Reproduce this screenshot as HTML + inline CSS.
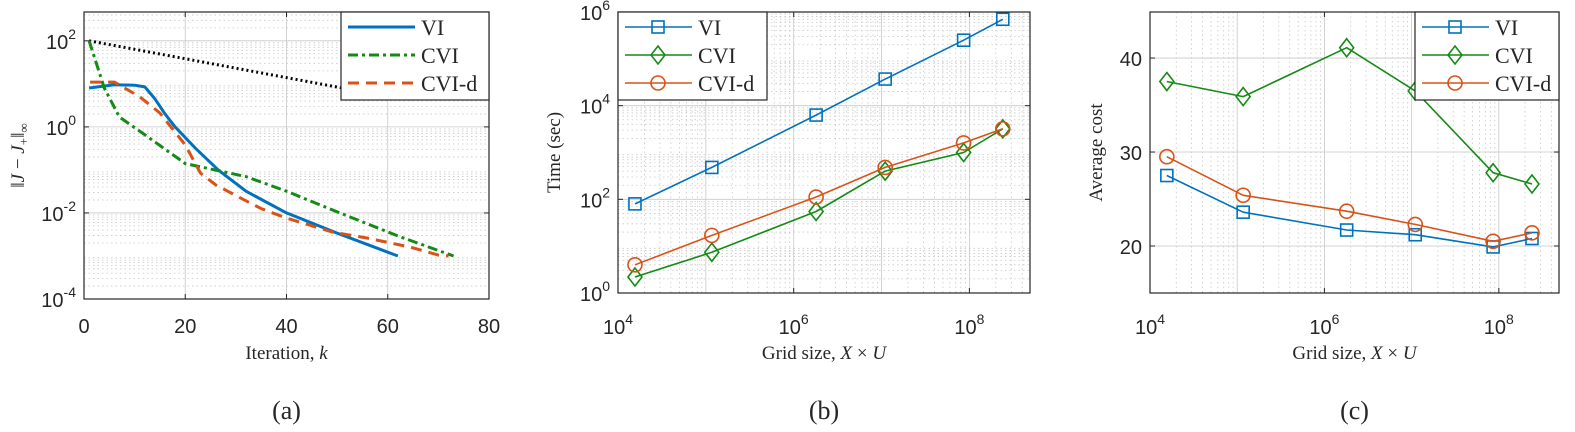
<!DOCTYPE html>
<html><head><meta charset="utf-8"><style>
body{margin:0;background:#fff;}
svg text{font-family:"Liberation Sans",sans-serif;fill:#262626;}
.serif{font-family:"Liberation Serif",serif !important;}
</style></head><body>
<svg id="fig" width="1575" height="427" viewBox="0 0 1575 427" xmlns="http://www.w3.org/2000/svg"></svg>
<script>
// Panel (a) data: iteration vs error
const aSeriesNames=["VI","CVI","CVI-d"];
const aViK=[1,6,10,12,14,16,18,22,26.5,32,40,50,62];
const aViV=[8,9.5,9.3,8.5,4.5,2,1.0,0.32,0.1,0.032,0.01,0.0034,0.001];
const aCviK=[1,4,7,11.7,20,32,40,50.5,62.4,73];
const aCviV=[100,8,1.7,0.7,0.14,0.07,0.032,0.01,0.0028,0.001];
const aCvidK=[1.2,6,11,15,20,23,26,31,35,40,49,56,64.5,70,72];
const aCvidV=[11,11,5,2.1,0.38,0.085,0.045,0.022,0.0126,0.0076,0.0036,0.0026,0.0016,0.00105,0.001];
const aRefK=[1,51];
const aRefV=[100,8];
const aXTicks=[0,20,40,60,80];
const aYTicks=[-4,-2,0,2];
// Panel (b) data: grid size vs time
const gridSizes=[1.56e4,1.17e5,1.8e6,1.1e7,8.6e7,2.4e8];
const bVi=[80,480,6300,37000,2.5e5,7e5];
const bCvi=[2.2,7.4,55,400,1000,3200];
const bCvid=[4,17,112,480,1600,3200];
const logXTicks=[4,6,8];
const bYTicks=[0,2,4,6];
// Panel (c) data: grid size vs average cost
const cVi=[27.5,23.6,21.7,21.2,19.9,20.8];
const cCvi=[37.5,35.9,41.1,36.5,27.8,26.6];
const cCvid=[29.5,25.4,23.7,22.3,20.5,21.4];
const cYTicks=[20,30,40];

const NS="http://www.w3.org/2000/svg";
const svg=document.getElementById('fig');
const BLUE="#0072BD",GREEN="#158A15",ORANGE="#D95319";
function mk(tag,attrs,parent){const e=document.createElementNS(NS,tag);for(const k in attrs)e.setAttribute(k,attrs[k]);(parent||svg).appendChild(e);return e;}
function txt(x,y,s,size,anchor,cls,parent){const t=mk('text',{x:x,y:y,'font-size':size,'text-anchor':anchor||'middle'},parent);if(cls)t.setAttribute('class',cls);t.innerHTML=s;return t;}

function panel(o){
  const g=mk('g',{});
  
  
  const X=v=>o.x0+(o.xlog?Math.log10(v)-o.xmin:v-o.xmin)/(o.xmax-o.xmin)*(o.x1-o.x0);
  const Y=v=>o.y1-(o.ylog?Math.log10(v)-o.ymin:v-o.ymin)/(o.ymax-o.ymin)*(o.y1-o.y0);
  mk('rect',{x:o.x0,y:o.y0,width:o.x1-o.x0,height:o.y1-o.y0,fill:'#fff'},g);
  const gr=mk('g',{stroke:'#c8c8c8','stroke-width':0.8},g);
  
  if(o.xlog){for(let d=Math.floor(o.xmin);d<o.xmax;d++)for(let m=2;m<10;m++){const lv=d+Math.log10(m);if(lv<=o.xmin||lv>=o.xmax)continue;const xx=X(Math.pow(10,lv));mk('line',{x1:xx,x2:xx,y1:o.y0,y2:o.y1,'stroke-dasharray':'1.5,3'},gr);}
    for(let d=Math.ceil(o.xmin);d<o.xmax;d++){const xx=X(Math.pow(10,d));mk('line',{x1:xx,x2:xx,y1:o.y0,y2:o.y1},gr);}}
  if(o.ylog){for(let d=Math.floor(o.ymin);d<o.ymax;d++)for(let m=2;m<10;m++){const lv=d+Math.log10(m);if(lv<=o.ymin||lv>=o.ymax)continue;const yy=Y(Math.pow(10,lv));mk('line',{x1:o.x0,x2:o.x1,y1:yy,y2:yy,'stroke-dasharray':'1.5,3'},gr);}}
  o.xticks.forEach(t=>{const xx=o.xlog?X(Math.pow(10,t)):X(t);if(!o.xlog)mk('line',{x1:xx,x2:xx,y1:o.y0,y2:o.y1},gr);
    mk('line',{x1:xx,x2:xx,y1:o.y1,y2:o.y1-5,stroke:'#262626'},g);mk('line',{x1:xx,x2:xx,y1:o.y0,y2:o.y0+5,stroke:'#262626'},g);
    if(o.xlog)txt(xx,334,'10<tspan dy="-10" font-size="14">'+t+'</tspan>',20,'middle',null,g);else txt(xx,333,t,20,'middle',null,g);});
  o.yticks.forEach(t=>{const yy=o.ylog?Y(Math.pow(10,t)):Y(t);mk('line',{x1:o.x0,x2:o.x1,y1:yy,y2:yy},gr);
    mk('line',{x1:o.x0,x2:o.x0+5,y1:yy,y2:yy,stroke:'#262626'},g);mk('line',{x1:o.x1,x2:o.x1-5,y1:yy,y2:yy,stroke:'#262626'},g);
    if(o.ylog)txt(o.x0-8,yy+8,'10<tspan dy="-10" font-size="14">'+t+'</tspan>',20,'end',null,g);else txt(o.x0-8,yy+8,t,20,'end',null,g);});
  o.series.forEach(s=>{
    const sg=mk('g',{},g);
    
    
    const pts=s.xs.map((v,i)=>X(v).toFixed(1)+','+Y(s.ys[i]).toFixed(1)).join(' ');
    const pl=mk('polyline',{points:pts,fill:'none',stroke:s.color,'stroke-width':s.w,'stroke-dasharray':s.dash||'none','stroke-linejoin':'round'},sg);
    
    
    if(s.marker)s.xs.forEach((v,i)=>{const m=marker(s.marker,X(v),Y(s.ys[i]),s.color,sg);
      
      });
  });
  mk('rect',{x:o.x0,y:o.y0,width:o.x1-o.x0,height:o.y1-o.y0,fill:'none',stroke:'#262626','stroke-width':1.2},g);
  const lg=mk('g',{},g);
  
  
  mk('rect',{x:o.lx,y:o.y0,width:o.lw,height:88,fill:'#fff',stroke:'#262626','stroke-width':1.2},lg);
  o.series.filter(s=>s.label!=='ref').forEach((s,i)=>{const yy=o.y0+15+i*28;
    const e=mk('g',{},lg);
    mk('line',{x1:o.lx+7,x2:o.lx+74,y1:yy,y2:yy,stroke:s.color,'stroke-width':s.w,'stroke-dasharray':s.dash||'none'},e);
    if(s.marker)marker(s.marker,o.lx+40,yy,s.color,e);
    txt(o.lx+80,yy+8,s.label,22,'start','serif',e);});
  const xl=txt((o.x0+o.x1)/2,359,o.xlabel,19,'middle','serif',g);
  const yl=txt(0,0,o.ylabel,19,'middle','serif',g);yl.setAttribute('transform','translate('+o.ylx+','+((o.y0+o.y1)/2)+') rotate(-90)');
  
  const cap=txt((o.x0+o.x1)/2,419,o.cap,26,'middle','serif',g);
}
function marker(type,x,y,c,p){
  if(type==='s')return mk('rect',{x:x-6,y:y-6,width:12,height:12,fill:'none',stroke:c,'stroke-width':1.6},p);
  if(type==='d')return mk('polygon',{points:`${x},${y-9} ${x+7},${y} ${x},${y+9} ${x-7},${y}`,fill:'none',stroke:c,'stroke-width':1.6},p);
  return mk('circle',{cx:x,cy:y,r:7,fill:'none',stroke:c,'stroke-width':1.6},p);
}
panel({name:'panel-a',x0:84,x1:489,y0:12,y1:299,xmin:0,xmax:80,xlog:false,ylog:true,ymin:-4,ymax:2.67,
  xticks:aXTicks,yticks:aYTicks,lx:341,lw:148,xlabel:'Iteration, <tspan font-style="italic">k</tspan>',
  ylabel:'‖<tspan font-style="italic">J</tspan> − <tspan font-style="italic">J</tspan><tspan font-size="13" dy="4">+</tspan><tspan dy="-4">‖</tspan><tspan font-size="13" dy="4">∞</tspan>',ylx:24,cap:'(a)',
  series:[{label:'ref',xs:aRefK,ys:aRefV,color:'#000',w:3,dash:'2,3'},
    {label:aSeriesNames[0],xs:aViK,ys:aViV,color:BLUE,w:3},
    {label:aSeriesNames[1],xs:aCviK,ys:aCviV,color:GREEN,w:3,dash:'10,4,3,4'},
    {label:aSeriesNames[2],xs:aCvidK,ys:aCvidV,color:ORANGE,w:3,dash:'11,7'}]});
panel({name:'panel-b',x0:618,x1:1030,y0:12,y1:293,xmin:4,xmax:8.69,xlog:true,ylog:true,ymin:0,ymax:6,
  xticks:logXTicks,yticks:bYTicks,lx:618,lw:149,xlabel:'Grid size, <tspan font-style="italic">X</tspan> × <tspan font-style="italic">U</tspan>',
  ylabel:'Time (sec)',ylx:560,cap:'(b)',
  series:[{label:'VI',xs:gridSizes,ys:bVi,color:BLUE,w:1.6,marker:'s'},
    {label:'CVI',xs:gridSizes,ys:bCvi,color:GREEN,w:1.6,marker:'d'},
    {label:'CVI-d',xs:gridSizes,ys:bCvid,color:ORANGE,w:1.6,marker:'o'}]});
panel({name:'panel-c',x0:1150,x1:1559,y0:12,y1:293,xmin:4,xmax:8.69,xlog:true,ylog:false,ymin:15,ymax:44.9,
  xticks:logXTicks,yticks:cYTicks,lx:1415,lw:144,xlabel:'Grid size, <tspan font-style="italic">X</tspan> × <tspan font-style="italic">U</tspan>',
  ylabel:'Average cost',ylx:1102,cap:'(c)',
  series:[{label:'VI',xs:gridSizes,ys:cVi,color:BLUE,w:1.6,marker:'s'},
    {label:'CVI',xs:gridSizes,ys:cCvi,color:GREEN,w:1.6,marker:'d'},
    {label:'CVI-d',xs:gridSizes,ys:cCvid,color:ORANGE,w:1.6,marker:'o'}]});
</script>
</body></html>
